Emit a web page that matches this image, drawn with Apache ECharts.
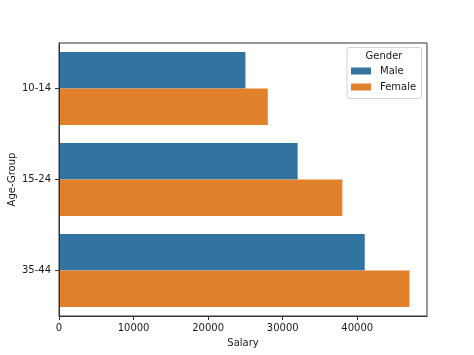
<!DOCTYPE html>
<html><head><meta charset="utf-8">
<script src="https://cdn.jsdelivr.net/npm/echarts@6/dist/echarts.min.js"></script>
<style>html,body{margin:0;padding:0;background:#fff}#c{width:474px;height:355px}</style>
</head><body><div id="c"></div>
<script>
const categories = ['10-14', '15-24', '35-44'];
const maleSalary = [25000, 32000, 41000];
const femaleSalary = [28000, 38000, 47000];
const xTicks = [0, 10000, 20000, 30000, 40000];
const seriesNames = ['Male', 'Female'];
const legendTitle = 'Gender';

const font = 'DejaVu Sans';
const txt = '#1a1a1a';
const chart = echarts.init(document.getElementById('c'), null, {renderer: 'canvas'});
const xMax = Math.max(...maleSalary, ...femaleSalary) * 1.05;
chart.setOption({
  animation: false,
  backgroundColor: '#fff',
  grid: {left: 59, top: 43, width: 368, height: 273, containLabel: false, outerBoundsMode: 'none',
         show: true, borderColor: '#333', borderWidth: 1, backgroundColor: 'transparent'},
  xAxis: {
    type: 'value', min: 0, max: xMax, interval: 10000,
    name: 'Salary', nameLocation: 'middle', nameGap: 22, nameMoveOverlap: false,
    nameTextStyle: {fontFamily: font, fontSize: 10, color: txt},
    axisLine: {show: true, lineStyle: {color: '#333'}},
    axisTick: {show: true, length: 4, lineStyle: {color: '#333'}},
    splitLine: {show: false},
    axisLabel: {fontFamily: font, fontSize: 10, color: txt, margin: 7,
      showMaxLabel: false,
      formatter: v => xTicks.includes(v) ? String(v) : ''}
  },
  yAxis: {
    type: 'category', data: categories, inverse: true, z: 5,
    name: 'Age-Group', nameLocation: 'middle', nameGap: 42, nameRotate: 90, nameMoveOverlap: false,
    nameTextStyle: {fontFamily: font, fontSize: 10, color: txt},
    axisLine: {show: true, lineStyle: {color: '#333'}},
    axisTick: {show: true, length: 4, alignWithLabel: true, lineStyle: {color: '#333'}},
    axisLabel: {fontFamily: font, fontSize: 10, color: txt, margin: 8}
  },
  legend: {
    orient: 'vertical', left: 351, top: 66, itemWidth: 20, itemHeight: 7, itemGap: 6,
    padding: 0, icon: 'rect', z: 10,
    data: seriesNames,
    textStyle: {fontFamily: font, fontSize: 10, color: txt, padding: [0, 0, 0, 4]}
  },
  graphic: [
    {type: 'rect', z: 8, shape: {x: 347, y: 47.5, width: 74.5, height: 51, r: 2},
     style: {fill: 'rgba(255,255,255,0.8)', stroke: '#d0d0d0', lineWidth: 1}},
    {type: 'text', z: 9, x: 384, y: 56.5,
     style: {text: legendTitle, font: '10px "DejaVu Sans"', fill: txt, textAlign: 'center', textVerticalAlign: 'middle'}}
  ],
  series: [
    {name: seriesNames[0], type: 'bar', data: maleSalary, barCategoryGap: '20%', barGap: '0%',
     itemStyle: {color: '#3274a1'}},
    {name: seriesNames[1], type: 'bar', data: femaleSalary, barCategoryGap: '20%', barGap: '0%',
     itemStyle: {color: '#e1812c'}}
  ]
});
</script></body></html>
